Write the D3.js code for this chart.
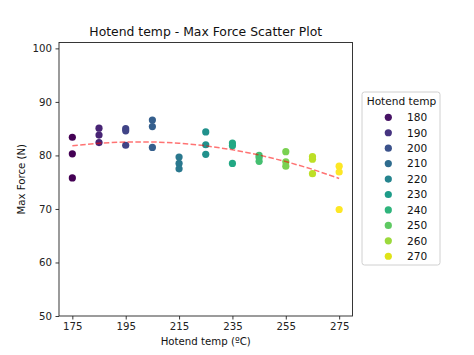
<!DOCTYPE html>
<html><head><meta charset="utf-8">
<script src="https://cdn.jsdelivr.net/npm/d3@7"></script>
<style>body{margin:0;background:#fff}svg{display:block;font-family:"DejaVu Sans",sans-serif}</style>
</head><body>
<svg id="c" width="474" height="355"></svg>
<script>
const temps = [175,185,195,205,215,225,235,245,255,265,275];
const forces = [
  [83.4,80.3,75.8],
  [85.1,83.8,82.4],
  [85.0,84.6,81.9],
  [86.6,85.4,81.5],
  [79.7,78.5,77.5],
  [84.4,82.0,80.2],
  [82.3,81.8,78.5],
  [80.0,79.6,78.9],
  [80.7,78.8,78.0],
  [79.8,79.3,76.6],
  [78.0,76.9,69.9]
];
const trendX = [175,185,195,205,215,225,235,245,255,265,275];
const trendY = [81.8,82.29,82.53,82.53,82.29,81.8,81.07,80.09,78.87,77.41,75.7];
const legendTemps = [180,190,200,210,220,230,240,250,260,270];
const xTicks = [175,195,215,235,255,275];
const yTicks = [50,60,70,80,90,100];

const svg = d3.select("#c");
const L=59,R=352.5,T=42.5,B=316;
const x = d3.scaleLinear().domain([170,280]).range([L,R]);
const y = d3.scaleLinear().domain([50,101.1]).range([B,T]);
const col = v => d3.interpolateViridis((v-175)/100);

const pts = [];
temps.forEach((t,i)=>forces[i].forEach(f=>pts.push({t,f})));

svg.append("g").selectAll("circle").data(pts).join("circle")
  .attr("cx",d=>x(d.t)).attr("cy",d=>y(d.f)).attr("r",3.6)
  .attr("fill",d=>col(d.t));

const line = d3.line().x((d,i)=>x(trendX[i])).y(d=>y(d));
svg.append("path").attr("d",line(trendY)).attr("fill","none")
  .attr("stroke","#ff0000").attr("stroke-opacity",0.55).attr("stroke-width",1.5)
  .attr("stroke-dasharray","5.5,2.4");

// frame
svg.append("rect").attr("x",L).attr("y",T).attr("width",R-L).attr("height",B-T)
  .attr("fill","none").attr("stroke","#222").attr("stroke-width",0.9);

const xa = svg.append("g").attr("transform",`translate(0,${B})`)
  .call(d3.axisBottom(x).tickValues(xTicks).tickSize(3.5).tickPadding(3.5).tickFormat(d3.format("d")));
const ya = svg.append("g").attr("transform",`translate(${L},0)`)
  .call(d3.axisLeft(y).tickValues(yTicks).tickSize(3.5).tickPadding(3.5).tickFormat(d3.format("d")));
[xa,ya].forEach(a=>{a.select(".domain").remove();
  a.selectAll("line").attr("stroke","#222").attr("stroke-width",0.9);
  a.selectAll("text").attr("font-size",10.2).attr("fill","#222").attr("font-family","DejaVu Sans");});

svg.append("text").attr("x",(L+R)/2).attr("y",36.3).attr("text-anchor","middle")
  .attr("font-size",12.4).attr("fill","#111").text("Hotend temp - Max Force Scatter Plot");
svg.append("text").attr("x",(L+R)/2).attr("y",345).attr("text-anchor","middle")
  .attr("font-size",10.2).attr("fill","#111").text("Hotend temp (ºC)");
svg.append("text").attr("transform",`translate(25,${(T+B)/2}) rotate(-90)`).attr("text-anchor","middle")
  .attr("font-size",10.2).attr("fill","#111").text("Max Force (N)");

// legend
const lg = svg.append("g");
lg.append("rect").attr("x",362).attr("y",92).attr("width",78).attr("height",173).attr("rx",2.5)
  .attr("fill","#fff").attr("stroke","#d0d0d0").attr("stroke-width",1);
lg.append("text").attr("x",401.5).attr("y",104.8).attr("text-anchor","middle").attr("font-size",10.6)
  .attr("fill","#111").text("Hotend temp");
legendTemps.forEach((t,i)=>{
  const cy = 117.3 + i*15.44;
  lg.append("circle").attr("cx",388.3).attr("cy",cy).attr("r",3.6).attr("fill",col(t));
  lg.append("text").attr("x",407).attr("y",cy+3.8).attr("font-size",10.6).attr("fill","#111").text(t);
});
</script>
</body></html>
